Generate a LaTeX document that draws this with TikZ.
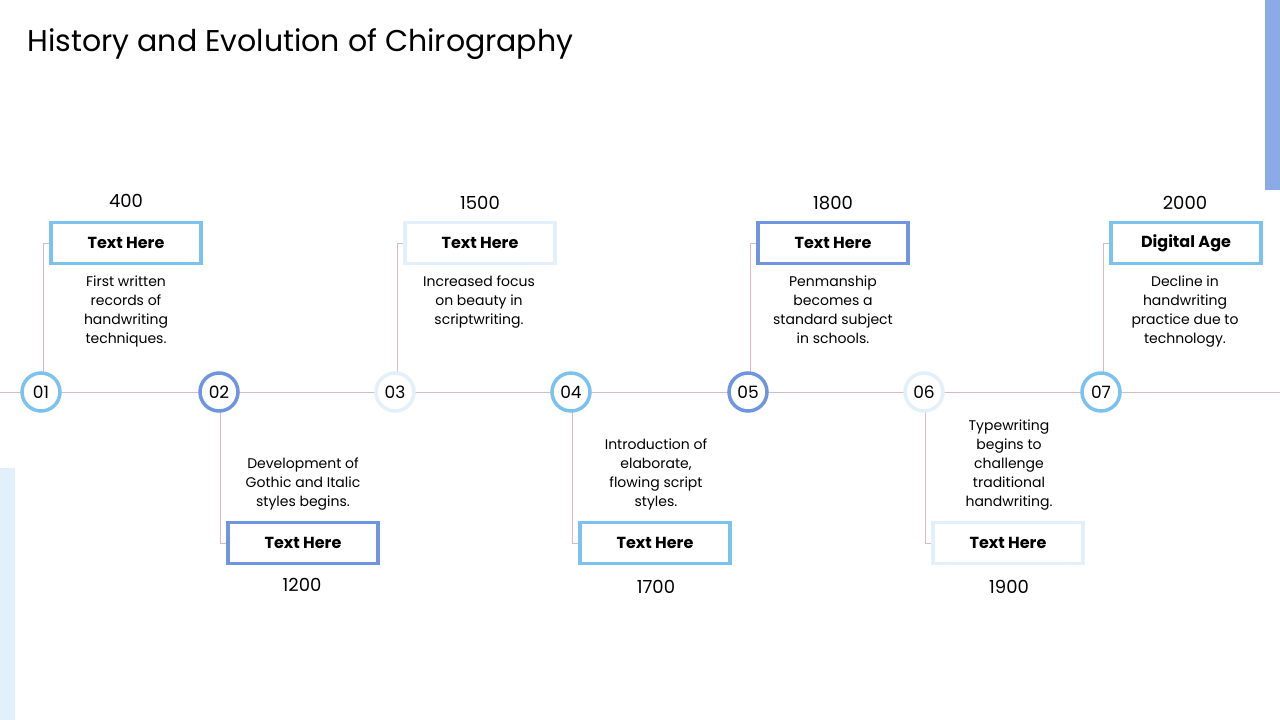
\documentclass[tikz,border=0pt]{standalone}
\usepackage{fontspec}
\setmainfont{Poppins}
\definecolor{cA}{HTML}{7CC2EE}
\definecolor{cB}{HTML}{6F95E0}
\definecolor{cC}{HTML}{E2F0FB}
\definecolor{ln}{HTML}{DDB7C8}
\begin{document}
\begin{tikzpicture}[x=1pt,y=-1pt,
  circ/.style={circle,draw=#1,line width=3.5pt,minimum size=38pt,inner sep=0pt,fill=white,font=\fontsize{17}{17}\selectfont},
  tbox/.style={draw=#1,line width=3.5pt,minimum width=150pt,minimum height=41pt,fill=white,font=\bfseries\fontsize{16}{16}\selectfont},
  desc/.style={align=center,font=\fontsize{14}{19}\selectfont},
  yr/.style={font=\fontsize{18}{18}\selectfont},
  conn/.style={draw=ln,line width=0.8pt}]
\useasboundingbox (0,0) rectangle (1280,720);
\fill[white] (0,0) rectangle (1280,720);
\fill[cB!80] (1265,0) rectangle (1280,190);
\fill[cC] (0,468) rectangle (15,720);
\node[anchor=west,font=\fontsize{30}{30}\selectfont] (title) at (24,44) {History and Evolution of Chirography};
\coordinate (L) at (0,392); \coordinate (R) at (1280,392);
\draw[conn] (L) -- (R);
% nodes
\foreach \i/\x/\c/\up in {1/41/cA/1,2/219/cB/0,3/395/cC/1,4/571/cA/0,5/748/cB/1,6/924/cC/0,7/1101/cA/1}{
  \ifnum\up=1
    \coordinate (k\i) at (\x+2,243);
    \node[tbox=\c] (b\i) at (\x+85,243) {};
    \draw[conn] (\x+2,392) -- (k\i) -- (b\i.west);
  \else
    \coordinate (k\i) at (\x+1,543);
    \node[tbox=\c] (b\i) at (\x+84,543) {};
    \draw[conn] (\x+1,392) -- (k\i) -- (b\i.west);
  \fi
  \node[circ=\c] (c\i) at (\x,392) {0\i};
}
\node[tbox=cA] at (b1) {Text Here};
\node[tbox=cB] at (b2) {Text Here};
\node[tbox=cC] at (b3) {Text Here};
\node[tbox=cA] at (b4) {Text Here};
\node[tbox=cB] at (b5) {Text Here};
\node[tbox=cC] at (b6) {Text Here};
\node[tbox=cA] at (b7) {Digital Age};
\node[yr] (y1) at (126,201) {400};
\node[yr] (y3) at (480,203) {1500};
\node[yr] (y5) at (833,203) {1800};
\node[yr] (y7) at (1185,203) {2000};
\node[yr] (y2) at (302,585) {1200};
\node[yr] (y4) at (656,587) {1700};
\node[yr] (y6) at (1009,587) {1900};
\node[desc,anchor=north] (d1) at (126,272) {First written\\records of\\handwriting\\techniques.};
\node[desc,anchor=north] (d3) at (479,272) {Increased focus\\on beauty in\\scriptwriting.};
\node[desc,anchor=north] (d5) at (833,272) {Penmanship\\becomes a\\standard subject\\in schools.};
\node[desc,anchor=north] (d7) at (1185,272) {Decline in\\handwriting\\practice due to\\technology.};
\node[desc,anchor=south] (d2) at (303,514) {Development of\\Gothic and Italic\\styles begins.};
\node[desc,anchor=south] (d4) at (656,514) {Introduction of\\elaborate,\\flowing script\\styles.};
\node[desc,anchor=south] (d6) at (1009,514) {Typewriting\\begins to\\challenge\\traditional\\handwriting.};
\end{tikzpicture}
\end{document}
